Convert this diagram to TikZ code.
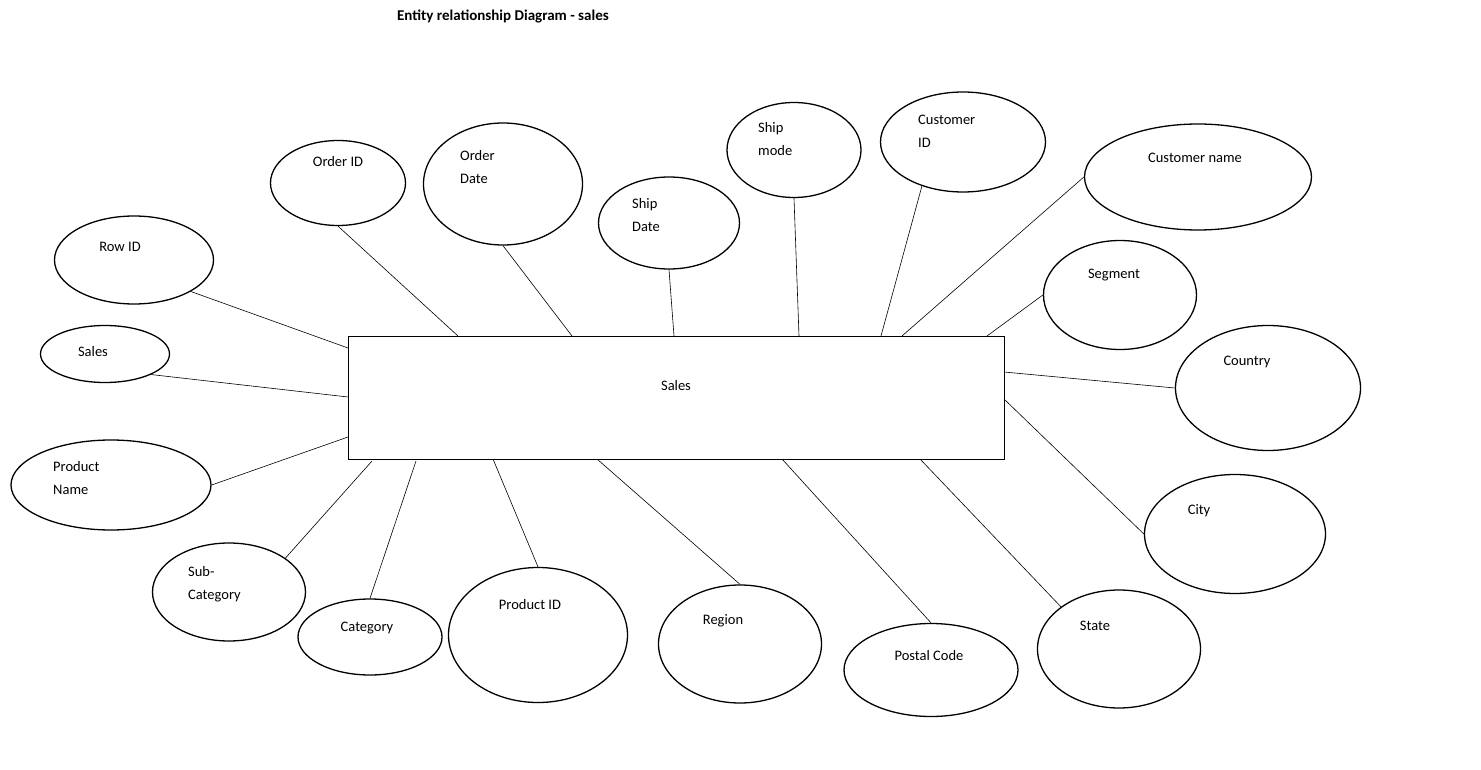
\documentclass[tikz,border=0pt]{standalone}
\usepackage{fontspec}
\setmainfont{Carlito}
\usetikzlibrary{shapes.geometric,calc}
\begin{document}
\begin{tikzpicture}[x=1pt,y=-1pt]
\tikzstyle{attr} = [draw, ellipse, line width=1.3pt, inner sep=0pt]
\tikzstyle{txt} = [align=left, inner sep=0pt, font=\fontsize{14.5}{23}\selectfont]
\tikzstyle{link} = [line width=0.6pt]
\useasboundingbox (0,0) rectangle (1481,770);

\node[font=\bfseries\fontsize{15}{18}\selectfont] (title) at (503,17) {Entity relationship Diagram - sales};

% entity
\node[draw, line width=1.3pt, minimum width=656pt, minimum height=123pt, anchor=north west] (ent) at (348,336) {};
\node[txt] (enttxt) at (676,386) {Sales};

% attributes
\node[attr, minimum width=135pt, minimum height=85pt] (orderid) at (338,183) {};
\node[txt] (orderidtxt) at (338,162) {Order ID};
\node[attr, minimum width=159pt, minimum height=122pt] (orderdate) at (503,184) {};
\node[txt, anchor=north west] (orderdatetxt) at (460,150) {Order\\Date};
\node[attr, minimum width=141pt, minimum height=92pt] (shipdate) at (669,223) {};
\node[txt, anchor=north west] (shipdatetxt) at (632,198) {Ship\\Date};
\node[attr, minimum width=134pt, minimum height=95pt] (shipmode) at (794,150) {};
\node[txt, anchor=north west] (shipmodetxt) at (758,122) {Ship\\mode};
\node[attr, minimum width=165pt, minimum height=100pt] (custid) at (963,142) {};
\node[txt, anchor=north west] (custidtxt) at (918,115) {Customer\\ID};
\node[attr, minimum width=227pt, minimum height=106pt] (custname) at (1198,177) {};
\node[txt] (custnametxt) at (1195,158) {Customer name};
\node[attr, minimum width=153pt, minimum height=109pt] (segment) at (1120,295) {};
\node[txt] (segmenttxt) at (1114,275) {Segment};
\node[attr, minimum width=185pt, minimum height=125pt] (country) at (1268,388) {};
\node[txt] (countrytxt) at (1247,362) {Country};
\node[attr, minimum width=181pt, minimum height=119pt] (city) at (1235,534) {};
\node[txt] (citytxt) at (1199,511) {City};
\node[attr, minimum width=163pt, minimum height=118pt] (state) at (1119,649) {};
\node[txt] (statetxt) at (1095,626) {State};
\node[attr, minimum width=174pt, minimum height=93pt] (postal) at (931,670) {};
\node[txt] (postaltxt) at (929,656) {Postal Code};
\node[attr, minimum width=163pt, minimum height=118pt] (region) at (740,644) {};
\node[txt] (regiontxt) at (723,621) {Region};
\node[attr, minimum width=179pt, minimum height=135pt] (prodid) at (538,635) {};
\node[txt] (prodidtxt) at (530,605) {Product ID};
\node[attr, minimum width=144pt, minimum height=76pt] (category) at (370,637) {};
\node[txt] (categorytxt) at (367,628) {Category};
\node[attr, minimum width=153pt, minimum height=98pt] (subcat) at (229,592) {};
\node[txt, anchor=north west] (subcattxt) at (188,566) {Sub-\\Category};
\node[attr, minimum width=200pt, minimum height=90pt] (prodname) at (111,485) {};
\node[txt, anchor=north west] (prodnametxt) at (53,461) {Product\\Name};
\node[attr, minimum width=129pt, minimum height=57pt] (salesattr) at (105,354) {};
\node[txt] (salestxt) at (93,352) {Sales};
\node[attr, minimum width=159pt, minimum height=88pt] (rowid) at (134,260) {};
\node[txt] (rowidtxt) at (120,247) {Row ID};

% connectors
\draw[link] (rowid.-29) -- ($(ent.north west)+(0,12)$);
\draw[link] (salesattr.-24) -- ($(ent.north west)+(0,61)$);
\draw[link] (prodname.0) -- ($(ent.north west)+(0,101)$);
\draw[link] (subcat.31) -- ($(ent.north west)+(24,125)$);
\draw[link] (category.90) -- ($(ent.north west)+(68,125)$);
\draw[link] (prodid.90) -- ($(ent.north west)+(145,123)$);
\draw[link] (region.90) -- ($(ent.north west)+(249,123)$);
\draw[link] (postal.90) -- ($(ent.north west)+(434,123)$);
\draw[link] (state.144) -- ($(ent.north west)+(572,123)$);
\draw[link] (city.180) -- ($(ent.north west)+(656,63)$);
\draw[link] (country.180) -- ($(ent.north west)+(656,36)$);
\draw[link] (segment.180) -- ($(ent.north west)+(639,0)$);
\draw[link] (custname.180) -- ($(ent.north west)+(554,0)$);
\draw[link] (custid.-133) -- ($(ent.north west)+(533,0)$);
\draw[link] (shipmode.-90) -- ($(ent.north west)+(451,0)$);
\draw[link] (shipdate.-90) -- ($(ent.north west)+(326,0)$);
\draw[link] (orderdate.-90) -- ($(ent.north west)+(224,0)$);
\draw[link] (orderid.-90) -- ($(ent.north west)+(110,0)$);
\end{tikzpicture}
\end{document}
